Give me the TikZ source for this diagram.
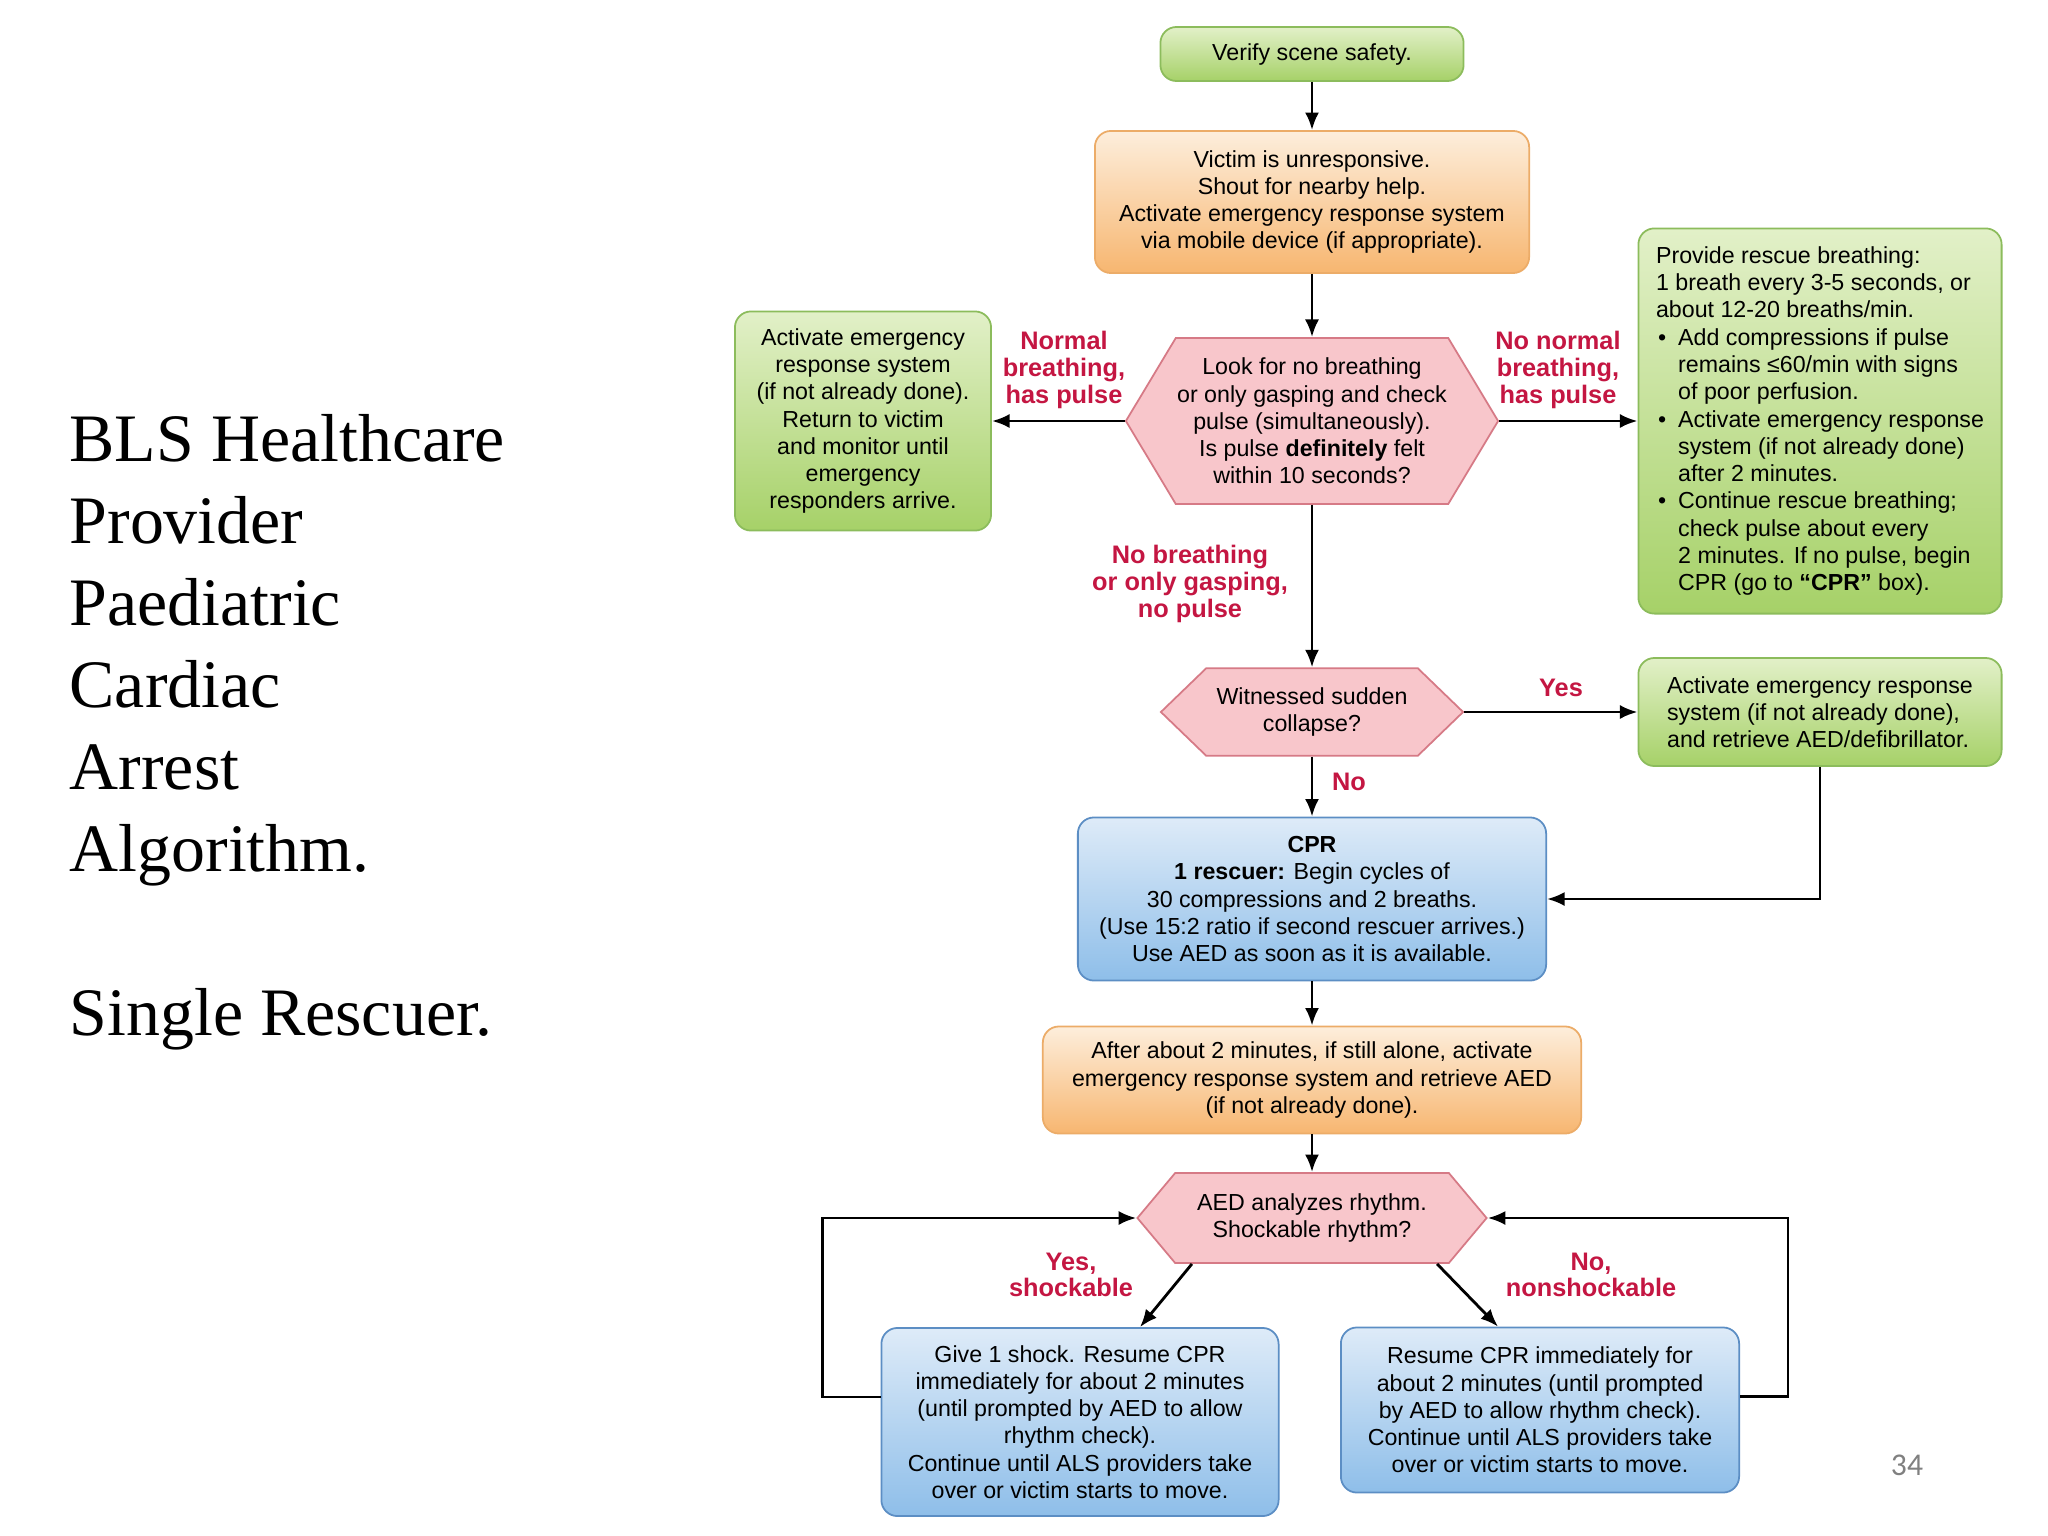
\documentclass[tikz,border=0pt]{standalone}
\usepackage{fontspec}
\setmainfont{Liberation Sans}
\newfontfamily\titlefont{Liberation Serif}
\newfontfamily\numfont{Carlito}
\usetikzlibrary{arrows.meta,shapes.symbols}

\definecolor{grtop}{RGB}{226,240,200}
\definecolor{grbot}{RGB}{166,209,104}
\definecolor{grline}{RGB}{140,188,92}
\definecolor{ortop}{RGB}{253,238,220}
\definecolor{orbot}{RGB}{247,182,112}
\definecolor{orline}{RGB}{236,172,104}
\definecolor{bltop}{RGB}{222,235,248}
\definecolor{blbot}{RGB}{142,190,233}
\definecolor{blline}{RGB}{92,142,196}
\definecolor{pkfill}{RGB}{248,198,203}
\definecolor{pkline}{RGB}{214,122,134}
\definecolor{labred}{RGB}{196,22,66}

\newcommand{\bitem}{\makebox[6.3pt][l]{\hspace{0.6pt}\textbullet}}
\newcommand{\bind}{\hspace*{6.3pt}}

\begin{document}
\begin{tikzpicture}[x=0.01cm,y=-0.01cm]
\tikzstyle{box} = [draw, rounded corners=1.6mm, line width=0.5pt, inner sep=0, align=center, font=\fontsize{6.6}{7.75}\selectfont];
\tikzstyle{grn} = [box, draw=grline, top color=grtop, bottom color=grbot];
\tikzstyle{org} = [box, draw=orline, top color=ortop, bottom color=orbot];
\tikzstyle{blu} = [box, draw=blline, top color=bltop, bottom color=blbot];
\tikzstyle{hex} = [signal, signal to=west and east, draw=pkline, fill=pkfill, line width=0.5pt, inner sep=0, align=center, font=\fontsize{6.6}{7.75}\selectfont];
\tikzstyle{lab} = [text=labred, align=center, inner sep=0, font=\fontsize{7.2}{7.6}\selectfont\bfseries];
\tikzstyle{arr} = [-{Latex[length=5pt,width=4pt]}, line width=0.8pt];

\path[fill=white] (0,0) rectangle (2048,1536);
\useasboundingbox (0,0) rectangle (2048,1536);

% title
\node[anchor=north west, align=left, inner sep=0, font=\titlefont\fontsize{19.3}{23.3}\selectfont] (title) at (69,414)
 {BLS Healthcare\\Provider\\Paediatric\\Cardiac\\Arrest\\Algorithm.\\[23.3pt]Single Rescuer.};
\node[text=gray, inner sep=0, font=\numfont\fontsize{9}{10}\selectfont] (page) at (1907,1465) {34};

% main column
\node[grn, minimum width=3.03cm, minimum height=0.54cm] (safe) at (1312,54) {Verify scene safety.};
\node[org, minimum width=4.34cm, minimum height=1.42cm] (victim) at (1312,202)
 {Victim is unresponsive.\\Shout for nearby help.\\Activate emergency response system\\via mobile device (if appropriate).};
\node[hex, signal pointer angle=118, minimum width=3.72cm, minimum height=1.66cm] (look) at (1312,421)
 {Look for no breathing\\or only gasping and check\\pulse (simultaneously).\\Is pulse \textbf{definitely} felt\\within 10 seconds?};
\node[hex, signal pointer angle=88, minimum width=3.02cm, minimum height=0.875cm] (witness) at (1312,712)
 {Witnessed sudden\\collapse?};
\node[blu, minimum width=4.68cm, minimum height=1.63cm] (cpr) at (1312,899)
 {\textbf{CPR}\\\textbf{1 rescuer:} Begin cycles of\\30 compressions and 2 breaths.\\(Use 15:2 ratio if second rescuer arrives.)\\Use AED as soon as it is available.};
\node[org, minimum width=5.38cm, minimum height=1.07cm] (alone) at (1312,1080)
 {After about 2 minutes, if still alone, activate\\emergency response system and retrieve AED\\(if not already done).};
\node[hex, signal pointer angle=100, minimum width=3.49cm, minimum height=0.9cm] (rhythm) at (1312,1218)
 {AED analyzes rhythm.\\Shockable rhythm?};

% side boxes
\node[grn, minimum width=2.56cm, minimum height=2.19cm] (monitor) at (863,421)
 {Activate emergency\\response system\\(if not already done).\\Return to victim\\and monitor until\\emergency\\responders arrive.};
\node[grn, minimum width=3.63cm, minimum height=3.85cm, align=left] (rescue) at (1820,421)
 {Provide rescue breathing:\\1 breath every 3-5 seconds, or\\about 12-20 breaths/min.\\\bitem Add compressions if pulse\\\bind remains ≤60/min with signs\\\bind of poor perfusion.\\\bitem Activate emergency response\\\bind system (if not already done)\\\bind after 2 minutes.\\\bitem Continue rescue breathing;\\\bind check pulse about every\\\bind 2 minutes. If no pulse, begin\\\bind CPR (go to \textbf{“CPR”} box).};
\node[grn, minimum width=3.63cm, minimum height=1.08cm, align=left] (getaed) at (1820,712)
 {Activate emergency response\\system (if not already done),\\and retrieve AED/defibrillator.};
\node[blu, minimum width=3.97cm, minimum height=1.88cm] (shock) at (1080,1422)
 {Give 1 shock. Resume CPR\\immediately for about 2 minutes\\(until prompted by AED to allow\\rhythm check).\\Continue until ALS providers take\\over or victim starts to move.};
\node[blu, minimum width=3.98cm, minimum height=1.65cm] (noshock) at (1540,1410)
 {Resume CPR immediately for\\about 2 minutes (until prompted\\by AED to allow rhythm check).\\Continue until ALS providers take\\over or victim starts to move.};

% labels
\node[lab] (lnormal) at (1064,370) {Normal\\breathing,\\has pulse};
\node[lab] (lnonormal) at (1558,370) {No normal\\breathing,\\has pulse};
\node[lab] (lnobreath) at (1190,584) {No breathing\\or only gasping,\\no pulse};
\node[lab] (lyes) at (1561,688) {Yes};
\node[lab] (lno) at (1349,782) {No};
\node[lab] (lshock) at (1071,1275) {Yes,\\shockable};
\node[lab] (lnoshock) at (1591,1275) {No,\\nonshockable};

% connectors
\foreach \a/\b in {safe/victim, victim/look, look/witness, witness/cpr, cpr/alone, alone/rhythm}{
	\draw[arr] (\a.south) -- (\b.north);}
\draw[arr] (look.west) -- (monitor.east);
\draw[arr] (look.east) -- (rescue.west);
\draw[arr] (witness.east) -- (getaed.west);
\draw[arr] (getaed.south) |- (cpr.east);
\draw[arr] ([xshift=-1.2cm]rhythm.south) -- ([xshift=0.6cm]shock.north);
\draw[arr] ([xshift=1.25cm]rhythm.south) -- ([xshift=-0.42cm]noshock.north);
\draw[arr] ([yshift=2.5mm]shock.west) -- ++(-0.58cm,0) |- (rhythm.west);
\draw[arr] ([yshift=1.35mm]noshock.east) -- ++(0.48cm,0) |- (rhythm.east);
\end{tikzpicture}
\end{document}
